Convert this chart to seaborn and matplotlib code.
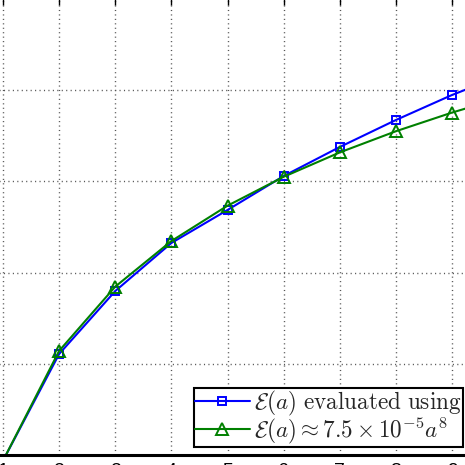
import numpy as np
import pandas as pd
import matplotlib
matplotlib.use("Agg")
import matplotlib.pyplot as plt
import seaborn as sns

# values (log y axis)
a_vals = [1, 2, 3, 4, 5, 6, 7, 8, 9, 10]
E_eval = [7.5e-5, 0.0164, 0.394, 4.46, 23.6, 131, 568, 2219, 7850, 23800]
E_approx = [7.5e-5, 0.0192, 0.492, 4.92, 29.3, 126, 432, 1258, 3229, 7500]
x_ticks = [1, 2, 3, 4, 5, 6, 7, 8, 9, 10]
y_ticks = [1e-4, 1e-2, 1e0, 1e2, 1e4, 1e6]

label_eval = r'$\mathcal{E}(a)\ \mathrm{evaluated\ using}$'
label_approx = r'$\mathcal{E}(a) \approx 7.5 \times 10^{-5} a^8$'

sns.set_theme(style="white")
plt.rcParams['font.family'] = ['Liberation Sans', 'DejaVu Sans']
plt.rcParams['mathtext.fontset'] = 'cm'

df = pd.DataFrame({'a': a_vals, 'eval': E_eval, 'approx': E_approx})

W = H = 465.0
fig = plt.figure(figsize=(4.65, 4.65), dpi=100)
fig.patch.set_facecolor('white')

# axes is larger than the canvas: the reference is a crop of a bigger figure
px_per_unit = 56.125
x_lo, x_hi = 0.85, 10.5
left_px = 3 - (1 - x_lo) * px_per_unit
width_px = (x_hi - x_lo) * px_per_unit
bottom_px = 465 - 455
height_px = 456
ax = fig.add_axes([left_px / W, bottom_px / H, width_px / W, height_px / H])

blue = '#0000ff'
green = '#008000'

sns.lineplot(data=df, x='a', y='eval', ax=ax, color=blue, linewidth=1.5,
             marker='s', markersize=6, markerfacecolor='none',
             markeredgecolor=blue, markeredgewidth=1.4, label=label_eval)
sns.lineplot(data=df, x='a', y='approx', ax=ax, color=green, linewidth=1.5,
             marker='^', markersize=8, markerfacecolor='none',
             markeredgecolor=green, markeredgewidth=1.4, label=label_approx)

ax.set_yscale('log')
ax.set_xlim(x_lo, x_hi)
ax.set_ylim(1e-4, 1e6)
ax.set_xticks(x_ticks)
ax.set_yticks(y_ticks)
ax.minorticks_off()
ax.set_xlabel('')
ax.set_ylabel('')

ax.grid(True, which='major', color='#555555', linestyle=(0, (0.8, 2.4)), linewidth=1.0)
for s in ax.spines.values():
    s.set_color('black')
    s.set_linewidth(2.2)
ax.tick_params(axis='both', which='major', direction='in', length=4, width=1,
               top=True, right=True, colors='black')
ax.tick_params(axis='x', labelsize=14, pad=5.5)

leg = ax.legend(loc='lower left', bbox_to_anchor=(194 / W, (465 - 447) / H),
                bbox_transform=fig.transFigure, borderaxespad=0, frameon=True,
                fancybox=False, framealpha=1, facecolor='white', edgecolor='black',
                fontsize=16.7, handlelength=2.35, handletextpad=0.2, labelspacing=-0.12,
                borderpad=0.05, numpoints=1)
leg.get_frame().set_linewidth(1.5)

plt.savefig('out.png', dpi=100)
